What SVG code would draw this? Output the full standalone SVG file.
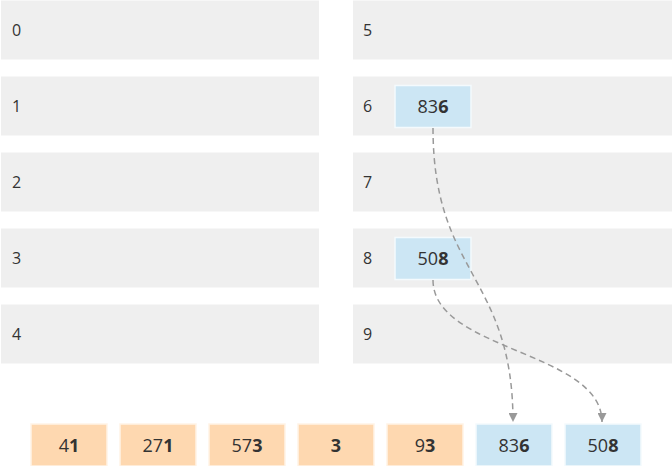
<svg xmlns="http://www.w3.org/2000/svg" width="672" height="466" viewBox="0 0 672 466">
<style>
.row{fill:#efefef}
.lbl{font-family:"Open Sans",sans-serif;font-size:16px;fill:#333}
.blue{fill:#cce6f4;stroke:#f4fafd;stroke-width:1.5}
.orange{fill:#fed8b0;stroke:#fff3e6;stroke-width:1.5}
.val{font-family:"Open Sans",sans-serif;font-size:18px;fill:#333;text-anchor:middle}
.b{font-weight:bold}
.edge{fill:none;stroke:#999;stroke-width:1.5;stroke-dasharray:6,4}
</style>
<defs>
<marker id="arr" viewBox="0 0 10 10" refX="10" refY="5" markerWidth="9" markerHeight="9" markerUnits="userSpaceOnUse" orient="auto">
<path d="M0,0 L10,5 L0,10 z" fill="#999"/>
</marker>
</defs>
<g id="buckets">
<g id="bucket0"><rect class="row" x="1" y="0.5" width="318" height="59"/><text class="lbl" x="12" y="36">0</text></g>
<g id="bucket1"><rect class="row" x="1" y="76.5" width="318" height="59"/><text class="lbl" x="12" y="112">1</text></g>
<g id="bucket2"><rect class="row" x="1" y="152.5" width="318" height="59"/><text class="lbl" x="12" y="188">2</text></g>
<g id="bucket3"><rect class="row" x="1" y="228.5" width="318" height="59"/><text class="lbl" x="12" y="264">3</text></g>
<g id="bucket4"><rect class="row" x="1" y="304.5" width="318" height="59"/><text class="lbl" x="12" y="340">4</text></g>
<g id="bucket5"><rect class="row" x="353" y="0.5" width="319" height="59"/><text class="lbl" x="363" y="36">5</text></g>
<g id="bucket6"><rect class="row" x="353" y="76.5" width="319" height="59"/><text class="lbl" x="363" y="112">6</text></g>
<g id="bucket7"><rect class="row" x="353" y="152.5" width="319" height="59"/><text class="lbl" x="363" y="188">7</text></g>
<g id="bucket8"><rect class="row" x="353" y="228.5" width="319" height="59"/><text class="lbl" x="363" y="264">8</text></g>
<g id="bucket9"><rect class="row" x="353" y="304.5" width="319" height="59"/><text class="lbl" x="363" y="340">9</text></g>
</g>
<g id="b836"><rect class="blue" x="395" y="85.5" width="76" height="42"/><text class="val" x="433" y="112.5">83<tspan class="b">6</tspan></text></g>
<g id="b508"><rect class="blue" x="395" y="237.5" width="76" height="42"/><text class="val" x="433" y="264.5">50<tspan class="b">8</tspan></text></g>
<g id="o41"><rect class="orange" x="31" y="424" width="76" height="42"/><text class="val" x="69" y="451.5">4<tspan class="b">1</tspan></text></g>
<g id="o271"><rect class="orange" x="120" y="424" width="76" height="42"/><text class="val" x="158" y="451.5">27<tspan class="b">1</tspan></text></g>
<g id="o573"><rect class="orange" x="209" y="424" width="76" height="42"/><text class="val" x="247" y="451.5">57<tspan class="b">3</tspan></text></g>
<g id="o3"><rect class="orange" x="298" y="424" width="76" height="42"/><text class="val" x="336" y="451.5"><tspan class="b">3</tspan></text></g>
<g id="o93"><rect class="orange" x="387" y="424" width="76" height="42"/><text class="val" x="425" y="451.5">9<tspan class="b">3</tspan></text></g>
<g id="r836"><rect class="blue" x="476" y="424" width="76" height="42"/><text class="val" x="514" y="451.5">83<tspan class="b">6</tspan></text></g>
<g id="r508"><rect class="blue" x="565" y="424" width="76" height="42"/><text class="val" x="603" y="451.5">50<tspan class="b">8</tspan></text></g>
<g id="connectors">
<path class="edge" d="M433,128 C433,275 513,275 513,422" marker-end="url(#arr)"/>
<path class="edge" d="M433,280 C433,351 602,351 602,422" marker-end="url(#arr)"/>
</g>
</svg>
